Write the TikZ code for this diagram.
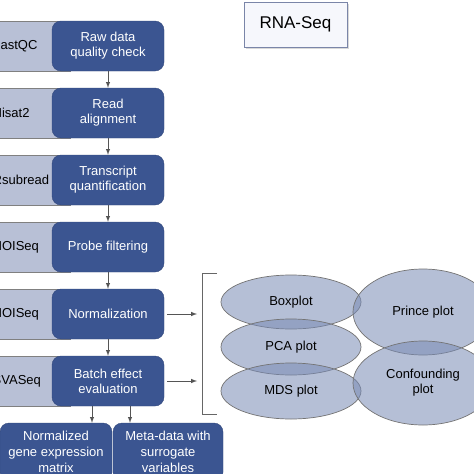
\documentclass[tikz,border=0pt]{standalone}
\usepackage{fontspec}
\setmainfont{Liberation Sans}
\usetikzlibrary{shapes.geometric,shadows}

\definecolor{navy}{RGB}{59,85,145}
\definecolor{toolgray}{RGB}{184,192,214}
\definecolor{plotblue}{RGB}{120,138,180}
\definecolor{arrowgray}{RGB}{85,85,85}

\tikzset{
	stepbox/.style={draw=navy!85!black, fill=navy, rounded corners=9pt, text=white, align=center,
		minimum width=112pt, minimum height=50pt, inner sep=2pt, font=\fontsize{13}{15}\selectfont},
	toolbox/.style={draw=gray, fill=toolgray, minimum width=140pt, minimum height=50pt},
	tooltext/.style={anchor=west, inner sep=0pt, font=\fontsize{13}{15}\selectfont},
	plotnode/.style={ellipse, draw=black!55, line width=.7pt, fill=plotblue, fill opacity=.55, text opacity=1,
		align=center, inner sep=0pt, font=\fontsize{13}{15}\selectfont},
	flow/.style={->, draw=arrowgray, line width=1pt},
}

\begin{document}
\begin{tikzpicture}[>=latex, x=1pt, y=-1pt]
	\useasboundingbox (0,0) rectangle (474,474);
	\clip (0,0) rectangle (474,474);

	% pipeline steps with their tools
	\foreach \i/\y/\tool/\task in {1/46/FastQC/{Raw data\\quality check},
			2/113/Hisat2/{Read\\alignment},
			3/180/Rsubread/{Transcript\\quantification},
			4/247/NOISeq/{Probe filtering},
			5/314/NOISeq/{Normalization},
			6/381/SVASeq/{Batch effect\\evaluation}} {
		\node[toolbox] (tb\i) at (0,\y) {};
		\node[tooltext] (tl\i) at (-7.5,\y) {\tool};
		\node[stepbox] (s\i) at (108,\y) {\task};
	}
	\foreach \i in {1,...,5} {
		\pgfmathtruncatemacro{\j}{\i+1}
		\draw[flow] (s\i) -- (s\j);
	}

	% outputs
	\node[stepbox, minimum height=58pt, font=\fontsize{13}{16}\selectfont] (out1) at (56,452) {Normalized\\gene expression\\matrix};
	\node[stepbox, minimum width=110pt, minimum height=58pt, font=\fontsize{13}{16}\selectfont] (out2) at (168,452) {Meta-data with\\surrogate\\variables};
	\coordinate (m1) at (92,0);
	\coordinate (m2) at (130,0);
	\draw[flow] (s6.south -| m1) -- (out1.north -| m1);
	\draw[flow] (s6.south -| m2) -- (out2.north -| m2);

	% title
	\node[draw={rgb,255:red,122;green,133;blue,168}, line width=.8pt, fill={rgb,255:red,246;green,247;blue,252},
		drop shadow={shadow xshift=2pt, shadow yshift=-2pt, opacity=.3},
		minimum width=103pt, minimum height=45pt, font=\fontsize{17}{20}\selectfont] (title) at (295.5,24.5) {RNA-Seq};

	% plots
	\coordinate (br) at (197,0);
	\draw[flow] ([xshift=3pt]s5.east) -- (s5.east -| br);
	\draw[flow] ([xshift=3pt]s6.east) -- (s6.east -| br);
	\draw[draw=black!60, line width=.8pt] (217,273) -- (202,273) -- (202,414) -- (217,414);

	\node[plotnode, minimum width=140pt, minimum height=54pt] (boxp) at (291,302) {Boxplot};
	\node[plotnode, minimum width=140pt, minimum height=56pt] (pca) at (291,347) {PCA plot};
	\node[plotnode, minimum width=140pt, minimum height=56pt] (mds) at (291,391) {MDS plot};
	\node[plotnode, minimum width=140pt, minimum height=86pt] (prince) at (423,312) {Prince plot};
	\node[plotnode, minimum width=140pt, minimum height=84pt] (conf) at (423,383) {Confounding\\plot};
\end{tikzpicture}
\end{document}
